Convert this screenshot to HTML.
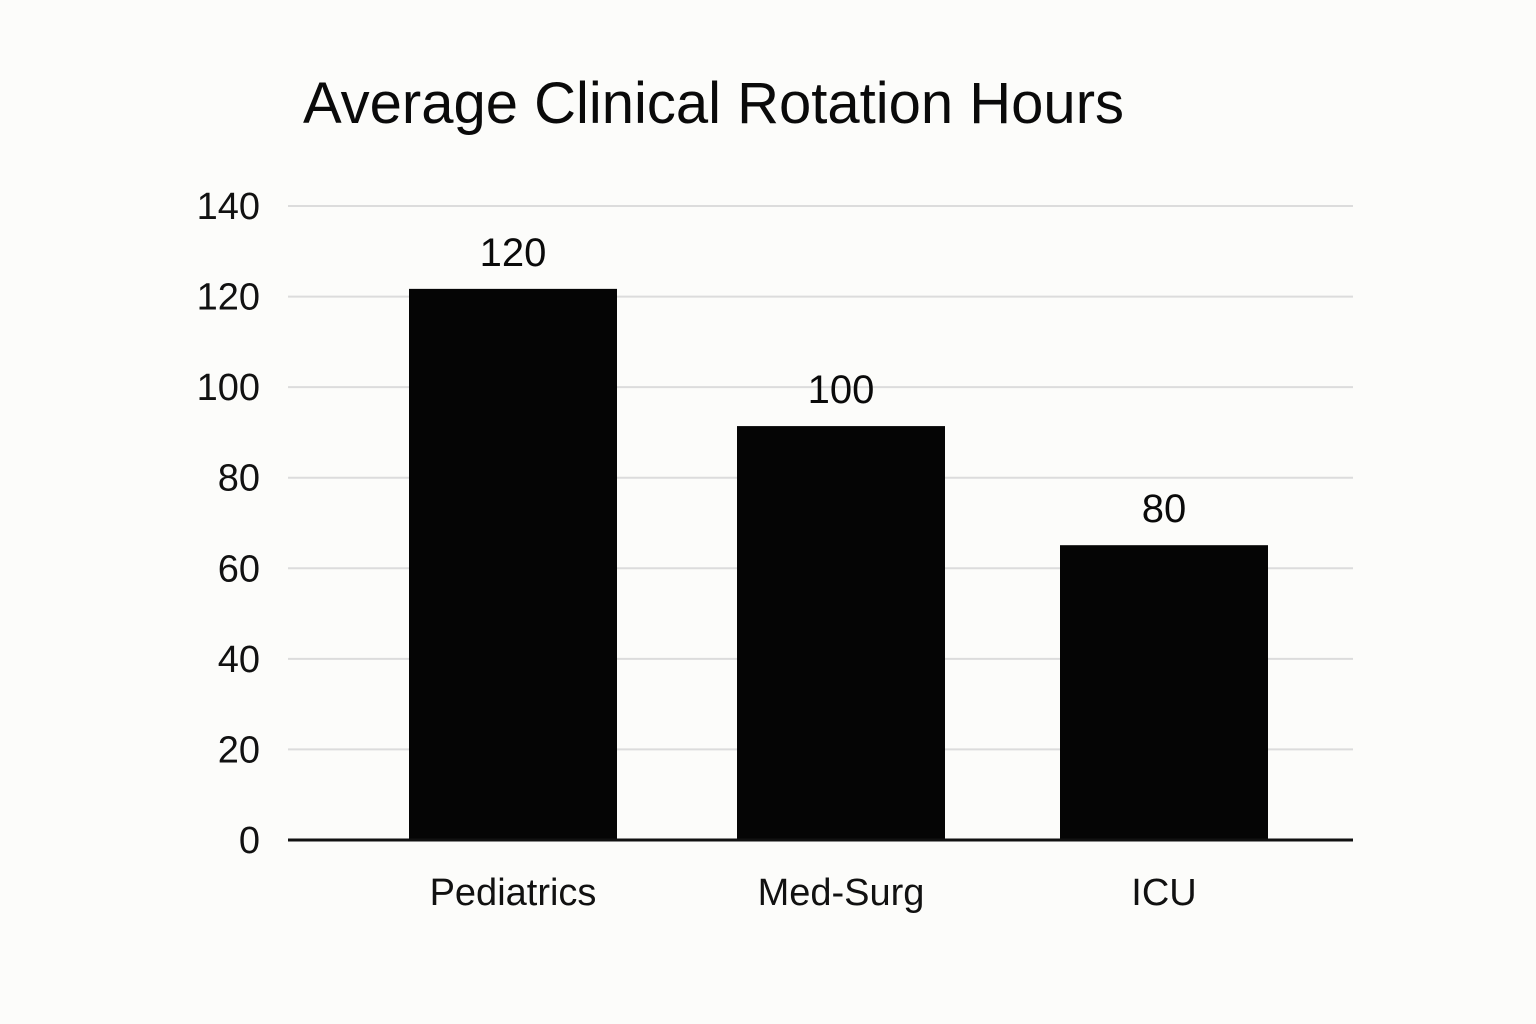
<!DOCTYPE html>
<html><head><meta charset="utf-8"><style>
html,body{margin:0;padding:0;background:#fcfcfa;}
svg{display:block;font-family:"Liberation Sans",sans-serif;}
</style></head><body>
<svg id="chart" width="1536" height="1024" viewBox="0 0 1536 1024">
<rect width="1536" height="1024" fill="#fcfcfa"/>
<text x="303" y="123" font-size="58" font-weight="500" fill="#0a0a0a">Average Clinical Rotation Hours</text>
<g id="grid"></g><g id="bars"></g><g id="labels"></g>
</svg>
<script>
const categories = ["Pediatrics", "Med-Surg", "ICU"];
const barValues = [121.7, 91.4, 65.1];
const valueLabels = ["120", "100", "80"];
const yTicks = [0, 20, 40, 60, 80, 100, 120, 140];
const NS = "http://www.w3.org/2000/svg";
const y0 = 840, yTop = 206, yMax = 140;
function yScale(v){ return y0 - (v / yMax) * (y0 - yTop); }
const plotL = 288, plotR = 1353, barW = 208;
const centers = [513, 841, 1164];
function xScale(i){ return centers[i] !== undefined ? centers[i] : plotL + (i + 0.5) * (plotR - plotL) / categories.length; }
function mk(tag, attrs, parent){ const e = document.createElementNS(NS, tag); for (const k in attrs) e.setAttribute(k, attrs[k]); parent.appendChild(e); return e; }
const grid = document.getElementById("grid"), bars = document.getElementById("bars"), labels = document.getElementById("labels");
yTicks.forEach(t => {
  const y = yScale(t);
  if (t !== 0) {
    const l = mk("line", {x1: plotL, x2: plotR, y1: y, y2: y, stroke: "#dcdcdc", "stroke-width": 2}, grid);
    
    
  }
  const tx = mk("text", {x: 260, y: y + 13, "text-anchor": "end", "font-size": 38, fill: "#111"}, grid);
  tx.textContent = t;
  
  
});
categories.forEach((c, i) => {
  const cx = xScale(i), top = yScale(barValues[i]);
  const r = mk("rect", {x: cx - barW / 2, y: top, width: barW, height: y0 - top, fill: "#050505"}, bars);
  
  
  const v = mk("text", {x: cx, y: top - 23, "text-anchor": "middle", "font-size": 40, fill: "#0a0a0a"}, labels);
  v.textContent = valueLabels[i];
  
  
  const xl = mk("text", {x: cx, y: 905, "text-anchor": "middle", "font-size": 38, fill: "#111"}, labels);
  xl.textContent = c;
  
  
});
const ax = mk("line", {x1: plotL, x2: plotR, y1: y0, y2: y0, stroke: "#111", "stroke-width": 3}, labels);


</script>
</body></html>
